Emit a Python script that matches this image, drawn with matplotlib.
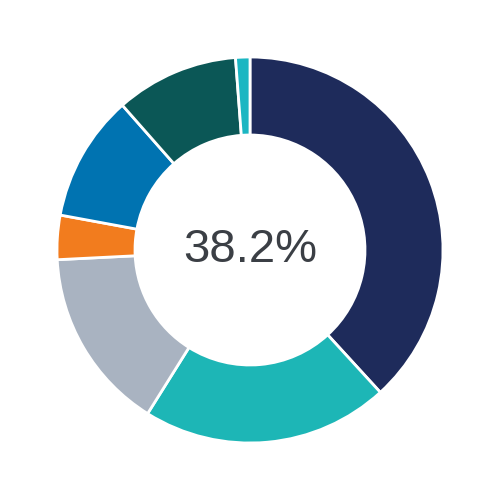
import matplotlib

matplotlib.use("Agg")
import matplotlib.pyplot as plt

# slice shares, clockwise from 12 o'clock
labels = ["Navy", "Teal", "Gray", "Orange", "Blue", "Dark green", "Small teal"]
shares = [38.2, 20.7, 15.3, 3.7, 10.6, 10.3, 1.2]
colors = ["#1e2b5b", "#1db6b6", "#a9b3c1", "#f27c1e", "#0073b1", "#0b5756", "#1bb6c2"]
center_text = "38.2%"

fig = plt.figure(figsize=(5, 5), dpi=100)
ax = fig.add_axes([0, 0, 1, 1])

outer_r = 193
ring_w = 78
ax.pie(
    shares,
    colors=colors,
    startangle=90,
    counterclock=False,
    radius=outer_r,
    wedgeprops=dict(width=ring_w, edgecolor="white", linewidth=2),
)
ax.text(0, 0, center_text, ha="center", va="center", fontsize=34,
        color="#3b3f45", family=["Liberation Sans", "DejaVu Sans"])

ax.set_xlim(-250, 250)
ax.set_ylim(-250, 250)
ax.set_aspect("equal")
ax.axis("off")

fig.savefig("out.png", dpi=100)
plt.close(fig)
